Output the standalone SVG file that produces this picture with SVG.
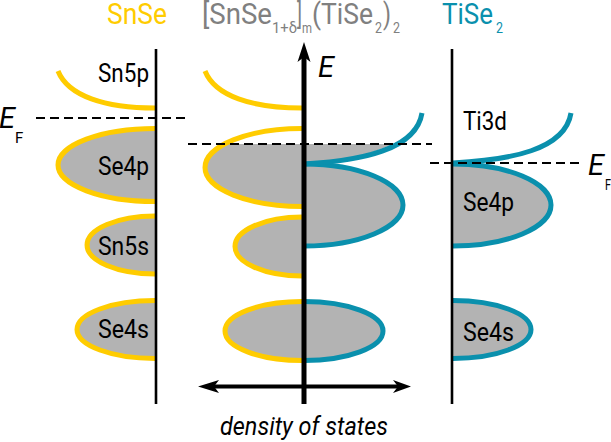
<svg xmlns="http://www.w3.org/2000/svg" width="611" height="442" viewBox="0 0 611 442">
<style>
text{font-family:Roboto,"Liberation Sans",sans-serif;fill:#000}
.y{fill:none;stroke:#fc0;stroke-width:5}
.t{fill:none;stroke:#0a90ad;stroke-width:5}
.g{fill:#b3b3b3}
.ax{stroke:#000;stroke-width:2.6;fill:none}
.d{stroke:#000;stroke-width:2;stroke-dasharray:9 5;fill:none}
.l{font-size:26px}
.ti{font-size:29px}
.s{font-size:15px}
.i{font-style:italic}
.gt{fill:#808080}
.ct{fill:#0a90ad}
.yt{fill:#fc0}
</style>
<g id="panel-snse">
<path class="y" d="M58,71C68,96 105,108 155,108"/>
<path class="g" d="M155,128.500A97,36.500 0 0 0 155,201.500Z"/>
<path class="y" d="M155,128.500A97,36.500 0 0 0 155,201.500"/>
<path class="g" d="M155,216A68,29 0 0 0 155,274Z"/>
<path class="y" d="M155,216A68,29 0 0 0 155,274"/>
<path class="g" d="M155,300.500A78,29 0 0 0 155,358.500Z"/>
<path class="y" d="M155,300.500A78,29 0 0 0 155,358.500"/>
<line class="ax" x1="156" y1="49" x2="156" y2="404"/>
</g>
<g id="panel-stack">
<path class="y" d="M205,71C215,96 252,108 302,108"/>
<path class="g" d="M302,144H304V207H302A97,39 0 0 1 205,167.500A97,39 0 0 1 222,144Z"/>
<path class="y" d="M302,206.500A97,39 0 0 1 205,167.500A97,39 0 0 1 302,128.500"/>
<path class="g" d="M304,144H393Q350,163 304,164Z"/>
<path class="g" d="M304,164A99,41 0 0 1 304,246Z"/>
<path class="t" d="M304,246A99,41 0 0 0 304,164"/>
<path class="t" d="M304,164C361,161 416,150 422,113"/>
<path class="g" d="M302,217A67,29.500 0 0 0 302,276Z"/>
<path class="y" d="M302,217A67,29.500 0 0 0 302,276"/>
<path class="g" d="M302,301.500A77,29.500 0 0 0 302,360.500Z"/>
<path class="y" d="M302,301.500A77,29.500 0 0 0 302,360.500"/>
<path class="g" d="M304,301.500A79,29.500 0 0 1 304,360.500Z"/>
<path class="t" d="M304,301.500A79,29.500 0 0 1 304,360.500"/>
</g>
<g id="panel-tise2">
<path class="t" d="M453,163C510,160 565,150 571,113"/>
<path class="g" d="M453,164A98,41 0 0 1 453,246Z"/>
<path class="t" d="M453,164A98,41 0 0 1 453,246"/>
<path class="g" d="M453,300.500A78,29 0 0 1 453,358.500Z"/>
<path class="t" d="M453,300.500A78,29 0 0 1 453,358.500"/>
<line class="ax" x1="452" y1="49" x2="452" y2="404"/>
</g>
<g id="connectors">
<line class="d" x1="36" y1="118" x2="187" y2="118"/>
<line class="d" x1="188" y1="144" x2="432" y2="144"/>
<line class="d" x1="430" y1="163" x2="582" y2="163"/>
<line x1="304" y1="55" x2="304" y2="404" stroke="#000" stroke-width="5"/>
<path d="M304,42L310.500,62L304,57L297.500,62Z" fill="#000"/>
<line x1="212" y1="386.500" x2="398" y2="386.500" stroke="#000" stroke-width="4"/>
<path d="M198,386.500L219,380L214,386.500L219,393Z" fill="#000"/>
<path d="M411,386.500L393,380L398,386.500L393,393Z" fill="#000"/>
</g>
<g id="labels">
<text class="ti yt" x="107" y="24" textLength="60" lengthAdjust="spacingAndGlyphs">SnSe</text>
<text class="ti gt" x="202" y="24" textLength="70" lengthAdjust="spacingAndGlyphs">[SnSe</text>
<text class="s gt" x="272" y="33" textLength="25" lengthAdjust="spacingAndGlyphs">1+δ</text>
<text class="ti gt" x="297" y="24" textLength="5" lengthAdjust="spacingAndGlyphs">]</text>
<text class="s gt" x="302" y="33" textLength="10" lengthAdjust="spacingAndGlyphs">m</text>
<text class="ti gt" x="312" y="24" textLength="61" lengthAdjust="spacingAndGlyphs">(TiSe</text>
<text class="s gt" x="375" y="33" textLength="7" lengthAdjust="spacingAndGlyphs">2</text>
<text class="ti gt" x="383" y="24" textLength="8" lengthAdjust="spacingAndGlyphs">)</text>
<text class="s gt" x="393" y="33" textLength="7" lengthAdjust="spacingAndGlyphs">2</text>
<text class="ti ct" x="442" y="24" textLength="51" lengthAdjust="spacingAndGlyphs">TiSe</text>
<text class="s ct" x="496" y="33" textLength="7" lengthAdjust="spacingAndGlyphs">2</text>
<text class="l" x="98" y="82" textLength="51" lengthAdjust="spacingAndGlyphs">Sn5p</text>
<text class="l" x="98" y="175" textLength="51" lengthAdjust="spacingAndGlyphs">Se4p</text>
<text class="l" x="98" y="255" textLength="51" lengthAdjust="spacingAndGlyphs">Sn5s</text>
<text class="l" x="98" y="338" textLength="51" lengthAdjust="spacingAndGlyphs">Se4s</text>
<text class="l" x="463" y="130" textLength="44" lengthAdjust="spacingAndGlyphs">Ti3d</text>
<text class="l" x="463" y="211" textLength="51" lengthAdjust="spacingAndGlyphs">Se4p</text>
<text class="l" x="463" y="341" textLength="51" lengthAdjust="spacingAndGlyphs">Se4s</text>
<text class="ti i" x="318" y="77" textLength="16" lengthAdjust="spacingAndGlyphs">E</text>
<text class="ti i" x="-1" y="128" textLength="16" lengthAdjust="spacingAndGlyphs">E</text>
<text class="s" x="15" y="143">F</text>
<text class="ti i" x="588" y="175" textLength="16" lengthAdjust="spacingAndGlyphs">E</text>
<text class="s" x="605" y="190" textLength="6" lengthAdjust="spacingAndGlyphs">F</text>
<text class="i" x="220" y="435" font-size="25" textLength="168" lengthAdjust="spacingAndGlyphs">density of states</text>
</g>
</svg>
